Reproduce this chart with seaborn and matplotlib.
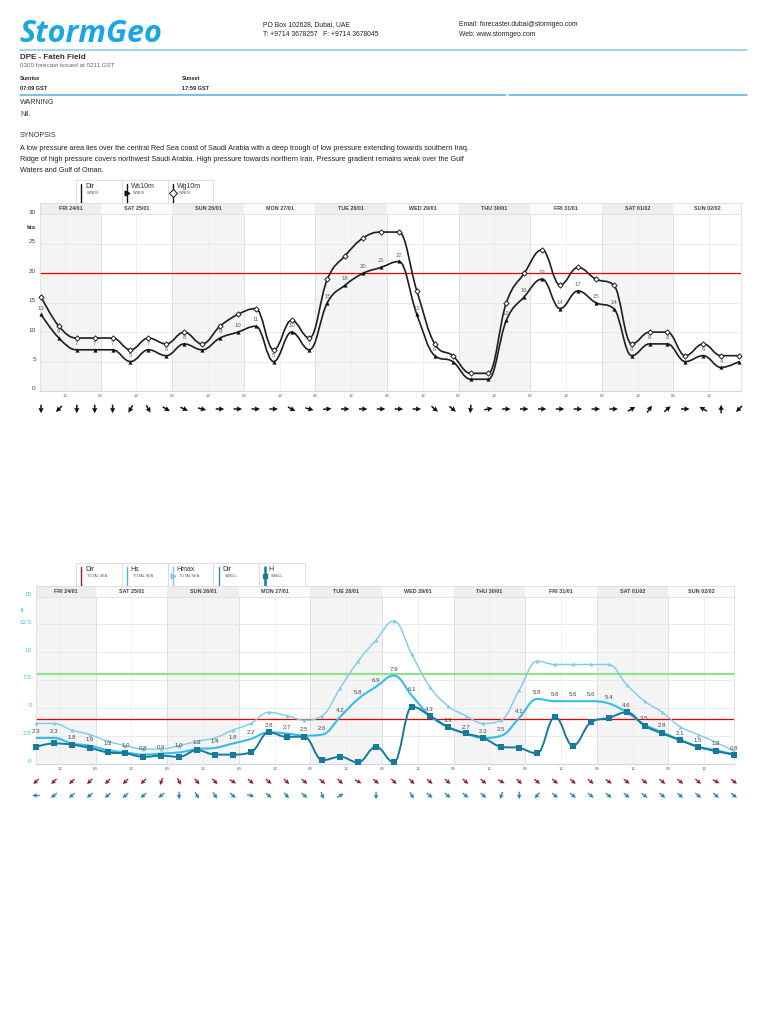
import numpy as np
import matplotlib
matplotlib.use("Agg")
import matplotlib.pyplot as plt
from matplotlib.path import Path
from matplotlib.patches import PathPatch, Rectangle
from matplotlib.transforms import ScaledTranslation
import seaborn as sns

sns.set_style("white")
plt.rcParams["font.family"] = ["Liberation Sans", "DejaVu Sans"]

# ---------------- data ----------------
days = ["FRI 24/01", "SAT 25/01", "SUN 26/01", "MON 27/01", "TUE 28/01",
        "WED 29/01", "THU 30/01", "FRI 31/01", "SAT 01/02", "SUN 02/02"]

# forecast steps, hours after Fri 24/01 00 GST
hours = [4, 10, 16, 22, 28, 34, 40, 46, 52, 58, 64, 70, 76, 82, 88, 94, 100, 106, 112, 118,
         124, 130, 136, 142, 148, 154, 160, 166, 172, 178, 184, 190, 196, 202, 208, 214, 220, 226, 232, 238]

# wind (kts)
ws10 = [13, 9, 7, 7, 7, 5, 7, 6, 8, 7, 9, 10, 11, 5, 10, 7, 15, 18, 20, 21,
        22, 13, 6, 5, 2, 2, 12, 16, 19, 14, 17, 15, 14, 6, 8, 8, 5, 6, 4, 5]
wg10 = [16, 11, 9, 9, 9, 7, 9, 8, 10, 8, 11, 13, 14, 7, 12, 9, 19, 23, 26, 27,
        27, 17, 8, 6, 3, 3, 15, 20, 24, 18, 21, 19, 18, 8, 10, 10, 6, 8, 6, 6]
ws_hidden = [9, 23, 24, 25, 36, 39]
wind_dir = [270, 225, 270, 270, 270, 240, 300, 330, 335, 345, 0, 0, 0, 0, 330, 345, 5, 0, 0, 0,
            0, 0, 320, 320, 265, 10, 0, 0, 0, 0, 0, 0, 0, 30, 55, 40, 0, 150, 90, 225]
wind_limit = 20

# waves (ft)
hs = [2.3, 2.3, 1.8, 1.6, 1.2, 1.0, 0.8, 0.9, 1.0, 1.3, 1.4, 1.8, 2.2, 2.8, 2.7, 2.5, 2.6, 4.2, 5.8, 6.9,
      7.9, 6.1, 4.3, 3.3, 2.7, 2.3, 2.5, 4.1, 5.8, 5.6, 5.6, 5.6, 5.4, 4.6, 3.5, 2.8, 2.1, 1.5, 1.2, 0.8]
hmax = [3.6, 3.6, 3.0, 2.6, 2.0, 1.6, 1.3, 1.3, 1.6, 2.0, 2.3, 3.0, 3.6, 4.6, 4.3, 3.9, 4.3, 6.8, 9.2, 11.1,
        12.8, 9.8, 6.9, 5.2, 4.3, 3.6, 3.9, 6.6, 9.2, 8.9, 8.9, 8.9, 8.9, 7.1, 5.6, 4.6, 3.3, 2.6, 1.9, 1.1]
h_swell = [1.5, 1.8, 1.7, 1.4, 1.0, 0.9, 0.6, 0.7, 0.6, 1.2, 0.8, 0.8, 1.0, 2.8, 2.4, 2.4, 0.3, 0.6, 0.1, 1.5,
           0.1, 5.1, 4.3, 3.3, 2.7, 2.3, 1.5, 1.4, 0.9, 4.2, 1.6, 3.7, 4.1, 4.6, 3.4, 2.7, 2.1, 1.5, 1.1, 0.8]
sea_dir = [225, 225, 225, 225, 225, 225, 225, 250, 300, 310, 315, 330, 320, 320, 315, 320, 320, 315, 330, 320,
           315, 315, 320, 320, 320, 320, 330, 315, 320, 320, 320, 320, 325, 320, 320, 320, 320, 320, 330, 320]
swell_dir = [180, 220, 220, 220, 220, 220, 220, 220, 270, 300, 305, 320, 345, 320, 310, 320, 290, 30, np.nan, 270,
             np.nan, 300, 320, 320, 320, 320, 250, 270, 230, 320, 320, 320, 320, 320, 320, 320, 320, 320, 320, 320]
wave_low, wave_high = 4.0, 8.0

synopsis = ["A low pressure area lies over the central Red Sea coast of Saudi Arabia with a deep trough of low pressure extending towards southern Iraq.",
            "Ridge of high pressure covers northwest Saudi Arabia. High pressure towards northern Iran. Pressure gradient remains weak over the Gulf",
            "Waters and Gulf of Oman."]

# ---------------- helpers ----------------
W, H = 768, 1024
fig = plt.figure(figsize=(W / 100, H / 100), dpi=100)


def px_ax(x0, y0, x1, y1):
    return fig.add_axes([x0 / W, 1 - y1 / H, (x1 - x0) / W, (y1 - y0) / H])


def spline(ax, x, y, **kw):
    # highcharts-like smoothed bezier through the points
    n = len(x)
    lc, rc = [None] * n, [None] * n
    for i in range(1, n - 1):
        px, py = x[i], y[i]
        lx, ly = x[i - 1], y[i - 1]
        nx, ny = x[i + 1], y[i + 1]
        lcx, lcy = (1.5 * px + lx) / 2.5, (1.5 * py + ly) / 2.5
        rcx, rcy = (1.5 * px + nx) / 2.5, (1.5 * py + ny) / 2.5
        if rcx != lcx:
            corr = (rcy - lcy) * (rcx - px) / (rcx - lcx) + py - rcy
            lcy += corr
            rcy += corr
        if lcy > max(ly, py):
            lcy = max(ly, py); rcy = 2 * py - lcy
        elif lcy < min(ly, py):
            lcy = min(ly, py); rcy = 2 * py - lcy
        if rcy > max(py, ny):
            rcy = max(py, ny); lcy = 2 * py - rcy
        elif rcy < min(py, ny):
            rcy = min(py, ny); lcy = 2 * py - rcy
        lc[i], rc[i] = (lcx, lcy), (rcx, rcy)
    verts, codes = [(x[0], y[0])], [Path.MOVETO]
    for i in range(1, n):
        c1 = rc[i - 1] if rc[i - 1] else (x[i - 1], y[i - 1])
        c2 = lc[i] if lc[i] else (x[i], y[i])
        verts += [c1, c2, (x[i], y[i])]
        codes += [Path.CURVE4] * 3
    ax.add_patch(PathPatch(Path(verts, codes), fill=False, **kw))


def base_plot(ax, xlim, ylim, yticks, ylabels, ycol):
    ax.set_xlim(*xlim)
    ax.set_ylim(*ylim)
    for d in range(10):
        if d % 2 == 0:
            ax.axvspan(d * 24, (d + 1) * 24, color="#f4f4f4", lw=0, zorder=0)
    for h in range(12, 240, 12):
        ax.axvline(h, color="#dadada" if h % 24 == 0 else "#ececec", lw=0.6, zorder=0.5)
    for v in yticks[1:]:
        ax.axhline(v, color="#e6e6e6", lw=0.6, zorder=0.5)
    ax.set_yticks(yticks)
    ax.set_yticklabels(ylabels, fontsize=4.6, color=ycol)
    ax.tick_params(axis="y", length=0, pad=3)
    off = ScaledTranslation(0, 2.6 / 100, fig.dpi_scale_trans)
    for lbl in ax.get_yticklabels():
        lbl.set_transform(lbl.get_transform() + off)
    xt = list(range(12, 240, 12))
    xt = [h for h in xt if xlim[0] < h < xlim[1]]
    ax.set_xticks(xt)
    ax.set_xticklabels(["12" if h % 24 else "00" for h in xt], fontsize=3.2, color="#666")
    ax.tick_params(axis="x", length=0, pad=2.2)
    for s in ["left", "top", "right"]:
        ax.spines[s].set_color("#e2e2e2")
        ax.spines[s].set_linewidth(0.6)
    ax.spines["bottom"].set_color("#ccd6eb")
    ax.spines["bottom"].set_linewidth(0.8)


def day_header(ax, xlim):
    ax.set_xlim(*xlim)
    ax.set_ylim(0, 1)
    ax.set_xticks([])
    ax.set_yticks([])
    for d, name in enumerate(days):
        ax.add_patch(Rectangle((d * 24, 0), 24, 1, facecolor="#eeeeee" if d % 2 == 0 else "#fbfbfb",
                               edgecolor="none"))
        a, b = max(d * 24, xlim[0]), min((d + 1) * 24, xlim[1])
        ax.text((a + b) / 2, 0.5, name, ha="center", va="center", fontsize=3.9,
                fontweight="bold", color="#444")
    for s in ax.spines.values():
        s.set_color("#dcdcdc")
        s.set_linewidth(0.6)


def arrow_row(ax, xlim, x, deg, color, length=0.085, width=1.3):
    ax.set_xlim(*xlim)
    ax.set_ylim(0, 1)
    ax.axis("off")
    xs = [xi for xi, d in zip(x, deg) if not np.isnan(d)]
    ds = np.deg2rad([d for d in deg if not np.isnan(d)])
    q = ax.quiver(xs, np.full(len(xs), 0.5), np.cos(ds), np.sin(ds), angles="uv", pivot="middle",
                  scale_units="inches", scale=1 / length, units="dots", width=width,
                  headwidth=3.6, headlength=3.6, headaxislength=3.2, color=color)
    q.set_clip_on(False)


# ---------------- page (pixel coordinates) ----------------
pg = fig.add_axes([0, 0, 1, 1])
pg.set_xlim(0, W)
pg.set_ylim(H, 0)
pg.axis("off")

pg.text(19, 34, "StormGeo", fontsize=22, color="#1ba6e4", fontweight="bold", style="italic",
        family=["Open Sans", "DejaVu Sans"], va="center", ha="left")
pg.text(263, 25, "PO Box 102628, Dubai, UAE", fontsize=4.9, color="#222", va="center")
pg.text(263, 35, "T: +9714 3678257   F: +9714 3678045", fontsize=4.9, color="#222", va="center")
pg.text(459, 25, "Email: forecaster.dubai@stormgeo.com", fontsize=4.9, color="#222", va="center")
pg.text(459, 35, "Web: www.stormgeo.com", fontsize=4.9, color="#222", va="center")
pg.plot([20, 747], [50, 50], color="#8cc8ea", lw=1.1)
pg.text(20, 57.3, "DPE - Fateh Field", fontsize=5.8, fontweight="bold", color="#333", va="center")
pg.text(20, 65.8, "0300 forecast issued at 0211 GST", fontsize=4.5, color="#666", va="center")
pg.text(20, 79, "Sunrise", fontsize=4.0, fontweight="bold", color="#222", va="center")
pg.text(20, 88.3, "07:09 GST", fontsize=4.0, fontweight="bold", color="#222", va="center")
pg.text(182, 79, "Sunset", fontsize=4.0, fontweight="bold", color="#222", va="center")
pg.text(182, 88.3, "17:59 GST", fontsize=4.0, fontweight="bold", color="#222", va="center")
pg.plot([20, 506], [95, 95], color="#5aaee0", lw=1.1)
pg.plot([509, 747], [95, 95], color="#5aaee0", lw=1.1)
pg.text(20, 102.7, "WARNING", fontsize=5.1, color="#333", va="center")
pg.text(20, 114.3, "Nil.", fontsize=5.1, color="#333", va="center")
pg.text(20, 135.7, "SYNOPSIS", fontsize=5.1, color="#333", va="center")
for k, line in enumerate(synopsis):
    pg.text(20, 148 + 11.4 * k, line, fontsize=5.25, color="#222", va="center")


def legend_cells(x0, y0, y1, cells, cw=45.8):
    for k, (title, sub, col, mk, lw) in enumerate(cells):
        x = x0 + k * cw
        pg.add_patch(Rectangle((x, y0), cw, y1 - y0, facecolor="white", edgecolor="#d9d9d9", lw=0.6))
        pg.plot([x + 5.3, x + 5.3], [y0 + 3.5, y1], color=col, lw=lw)
        if mk == "D":
            pg.plot(x + 5.3, y0 + 12.5, marker="D", ms=3.6, mfc="white", mec=col, mew=0.7)
        elif mk:
            pg.plot(x + 5.3, y0 + 12.5, marker=mk, ms=3.4, color=col)
        pg.text(x + 9, y0 + 6.3, title, fontsize=5.0, color="#333", va="center")
        pg.text(x + 11.3, y0 + 13, sub, fontsize=2.7, color="#555", va="center")


legend_cells(76, 180, 203, [("Dir", "WINDS", "#111", None, 1.0),
                            ("Ws10m", "WINDS", "#111", ">", 1.0),
                            ("Wg10m", "WINDS", "#111", "D", 1.0)])
legend_cells(76, 563.3, 585.5, [("Dir", "TOTAL SEA", "#8c2152", None, 1.0),
                                ("Hs", "TOTAL SEA", "#33bdec", None, 1.0),
                                ("Hmax", "TOTAL SEA", "#7ccbe9", ">", 1.0),
                                ("Dir", "SWELL", "#2a8ab5", None, 1.0),
                                ("H", "SWELL", "#157a9c", "s", 1.8)])

# ---------------- wind chart ----------------
wx = (3.66, 238.67)
day_header(px_ax(40, 202.7, 741, 214.4), wx)
ax = px_ax(40, 214.4, 741, 391)
base_plot(ax, wx, (0, 30), [0, 5, 10, 15, 20, 25, 30], ["0", "5", "10", "15", "20", "25", "30"], "#444")
pg.text(36, 227.7, "kts", fontsize=4.6, fontweight="bold", color="#333", ha="right", va="center")
ax.axhline(wind_limit, color="#e00000", lw=0.9, zorder=2)
spline(ax, hours, wg10, color="#1e1e1e", lw=1.2, zorder=3)
spline(ax, hours, ws10, color="#1e1e1e", lw=1.2, zorder=3)
sns.scatterplot(x=hours, y=wg10, ax=ax, marker="D", s=7, color="white", edgecolor="#1e1e1e",
                linewidth=0.7, zorder=4, clip_on=False)
sns.scatterplot(x=hours, y=ws10, ax=ax, marker="^", s=9, color="#111", linewidth=0, zorder=4,
                clip_on=False)
for i, (h, v) in enumerate(zip(hours, ws10)):
    if i not in ws_hidden:
        ax.annotate(str(v), (h, v), xytext=(0, 4.6), textcoords="offset points", ha="center",
                    va="center", fontsize=4.3, color="#666", zorder=5)
arrow_row(px_ax(40, 401, 741, 417), wx, hours, wind_dir, "#111", length=0.085, width=1.5)

# ---------------- wave chart ----------------
vx = (4.0, 238.0)
day_header(px_ax(36, 585.5, 734, 596.6), vx)
bx = px_ax(36, 596.6, 734, 763.5)
base_plot(bx, vx, (0, 15), [0, 2.5, 5, 7.5, 10, 12.5, 15], ["0", "2.5", "5", "7.5", "10", "12.5", "15"],
          "#3dbde8")
pg.text(25, 611, "ft", fontsize=4.6, color="#3dbde8", ha="right", va="center")
bx.axhline(wave_low, color="#e00000", lw=0.9, zorder=2)
bx.axhline(wave_high, color="#8ee28e", lw=1.6, zorder=2)
spline(bx, hours, hmax, color="#7ccbe9", lw=1.0, zorder=3)
sns.scatterplot(x=hours, y=hmax, ax=bx, marker="^", s=8, color="#7ccbe9", linewidth=0, zorder=3,
                clip_on=False)
spline(bx, hours, hs, color="#33bdec", lw=1.5, zorder=3.5)
spline(bx, hours, h_swell, color="#157a9c", lw=1.4, zorder=4)
sns.scatterplot(x=hours, y=h_swell, ax=bx, marker="s", s=14, color="#157a9c", linewidth=0, zorder=4,
                clip_on=False)
for h, v in zip(hours, hs):
    bx.annotate(f"{v:.1f}", (h, v), xytext=(0, 4.6), textcoords="offset points", ha="center",
                va="center", fontsize=4.4, color="#444", zorder=5)
arrow_row(px_ax(36, 774, 734, 789), vx, hours, sea_dir, "#8c2152", length=0.075, width=1.3)
arrow_row(px_ax(36, 788, 734, 803), vx, hours, swell_dir, "#2a86b8", length=0.075, width=1.3)

fig.savefig("out.png", dpi=100)
